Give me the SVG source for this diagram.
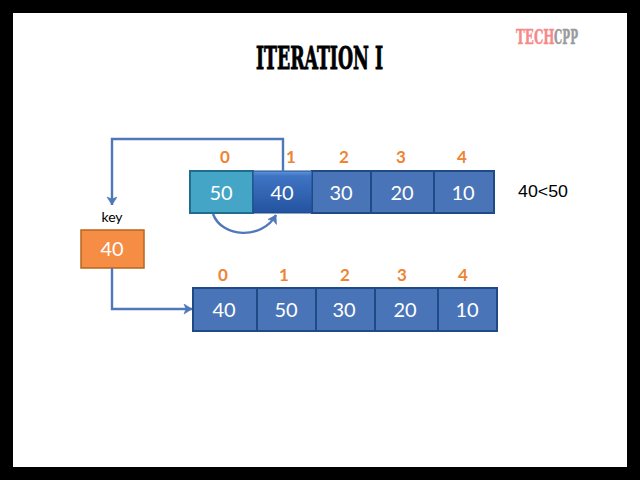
<svg xmlns="http://www.w3.org/2000/svg" width="640" height="480" viewBox="0 0 640 480">
<style>
.cell{fill:#4a74b8;stroke:#1f4a86;stroke-width:2}
.v{font:20px Lato,"Open Sans",sans-serif;fill:#fff;text-anchor:middle}
.i{font:bold 17px Lato,"Open Sans",sans-serif;fill:#ee8434;text-anchor:middle}
.c{fill:none;stroke:#4f78ba;stroke-width:2.4}
.t{font-family:"DejaVu Serif Condensed","Liberation Serif",serif;font-weight:bold;text-anchor:start}
</style>
<defs>
<linearGradient id="blue" x1="0" y1="0" x2="0" y2="1"><stop offset="0" stop-color="#5f95dc"/><stop offset=".12" stop-color="#3f74c4"/><stop offset="1" stop-color="#23539f"/></linearGradient>
<marker id="a" markerWidth="12" markerHeight="12" refX="9" refY="5" orient="auto" markerUnits="userSpaceOnUse"><path d="M1 0L9 5L1 10L3 5Z" fill="#4f78ba" stroke="#4f78ba" stroke-width=".6"/></marker>
</defs>
<rect x="0" y="0" width="640" height="480" fill="#000"/>
<rect x="13" y="13" width="614" height="454" fill="#fff"/>
<text class="t" x="256" y="69" font-size="32" textLength="127" lengthAdjust="spacingAndGlyphs" stroke="#000" stroke-width=".9">ITERATION I</text>
<text class="t" transform="translate(516 44) scale(.66 1)" font-size="20" fill="#f58a8a" stroke="#f58a8a" stroke-width=".4">TECH</text>
<text class="t" transform="translate(554 44) scale(.58 1)" font-size="20" fill="#9a9a9a" stroke="#9a9a9a" stroke-width=".4">CPP</text>
<g id="top-indexes">
<text class="i" x="225" y="163">0</text><text class="i" x="291" y="163">1</text><text class="i" x="344" y="163">2</text><text class="i" x="401" y="163">3</text><text class="i" x="462" y="163">4</text>
</g>
<g id="top-50"><rect x="190" y="171" width="63" height="42" fill="#45a5c6" stroke="#1f6f8c" stroke-width="2"/><text class="v" x="221" y="200">50</text></g>
<g id="top-30"><rect class="cell" x="312" y="171" width="59" height="42"/><text class="v" x="341" y="200">30</text></g>
<g id="top-20"><rect class="cell" x="371" y="171" width="63" height="42"/><text class="v" x="402" y="200">20</text></g>
<g id="top-10"><rect class="cell" x="434" y="171" width="60" height="42"/><text class="v" x="463" y="200">10</text></g>
<g id="top-40"><rect x="253" y="171" width="59" height="42" fill="url(#blue)" stroke="#1f4a86" stroke-width="1"/><text class="v" x="282" y="200">40</text></g>
<text x="518" y="197" font-family="Liberation Sans,sans-serif" font-size="17" textLength="50" lengthAdjust="spacingAndGlyphs" fill="#000">40&lt;50</text>
<g id="key"><text x="112" y="222" font-family="Lato,sans-serif" font-size="14" fill="#000" text-anchor="middle">key</text>
<rect x="81" y="230" width="63" height="38" fill="#f58d44" stroke="#b8651f" stroke-width="1.5"/><text class="v" x="112" y="256">40</text></g>
<g id="bottom-indexes">
<text class="i" x="223" y="281">0</text><text class="i" x="284" y="281">1</text><text class="i" x="345" y="281">2</text><text class="i" x="402" y="281">3</text><text class="i" x="463" y="281">4</text>
</g>
<g id="bottom-40"><rect class="cell" x="193" y="288" width="64" height="43"/><text class="v" x="224" y="317">40</text></g>
<g id="bottom-50"><rect class="cell" x="257" y="288" width="59" height="43"/><text class="v" x="286" y="317">50</text></g>
<g id="bottom-30"><rect class="cell" x="316" y="288" width="59" height="43"/><text class="v" x="344" y="317">30</text></g>
<g id="bottom-20"><rect class="cell" x="375" y="288" width="63" height="43"/><text class="v" x="405" y="317">20</text></g>
<g id="bottom-10"><rect class="cell" x="438" y="288" width="59" height="43"/><text class="v" x="467" y="317">10</text></g>
<g id="connectors">
<path class="c" d="M283 171V139H112V205" marker-end="url(#a)"/>
<path class="c" d="M112 268V309H192" marker-end="url(#a)"/>
<path class="c" d="M213 214C222 238 262 240 276 215" marker-end="url(#a)"/>
</g>
</svg>
